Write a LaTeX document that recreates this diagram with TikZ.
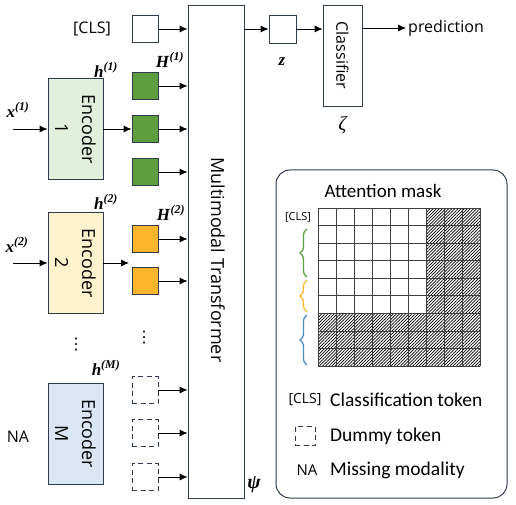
\documentclass[tikz,border=0pt]{standalone}
\usepackage{fontspec}
\setmainfont{Liberation Serif}
\setsansfont{Open Sans}
\newfontfamily\legendfont{Carlito}
\newfontfamily\dotsfont{DejaVu Sans}
\usetikzlibrary{arrows.meta,patterns.meta,decorations.pathreplacing}

\definecolor{edge}{HTML}{2E3B4E}
\definecolor{tokgreen}{HTML}{5E9E3E}
\definecolor{tokorange}{HTML}{F9B62C}
\definecolor{encgreen}{HTML}{E2EFDA}
\definecolor{encorange}{HTML}{FFF2CC}
\definecolor{encblue}{HTML}{DAE6F4}
\definecolor{brblue}{HTML}{4A8BCB}

\newcommand{\vsym}[2]{\textbf{\textit{#1}}\textsuperscript{\textbf{\textit{(#2)}}}}

\tikzset{
  every node/.style={font=\sffamily\fontsize{16}{18}\selectfont},
  box/.style={draw=edge,line width=0.8pt,inner sep=0pt},
  tok/.style={box,minimum width=26pt,minimum height=27pt},
  clstok/.style={tok,fill=white},
  modA/.style={tok,fill=tokgreen},
  modB/.style={tok,fill=tokorange},
  dummy/.style={tok,dash pattern=on 5pt off 3.5pt},
  enc/.style={box,rotate=-90,minimum width=101pt,minimum height=55pt,align=center,
    text depth=-4pt,font=\sffamily\fontsize{18}{27}\selectfont},
  sym/.style={font=\rmfamily\fontsize{17}{19}\selectfont},
  vdot/.style={font=\dotsfont\fontsize{16}{18}\selectfont},
  arr/.style={-{Latex[length=8pt,width=7pt]},line width=0.8pt},
  hatch/.style={pattern={Lines[angle=45,distance=2.2pt,line width=0.7pt]}},
  gridline/.style={draw=black!75,line width=0.6pt},
  brc/.style={decorate,decoration={brace,amplitude=7pt},line width=1.3pt},
  legendtext/.style={font=\legendfont\fontsize{19.5}{21}\selectfont,anchor=west,inner sep=0pt}
}

\begin{document}
\begin{tikzpicture}[x=1pt,y=-1pt]
  \useasboundingbox (0,0) rectangle (516,505);

  % tokens
  \node [clstok] (cls) at (145,29) {};
  \node (clsname) at (92,29) {[CLS]};
  \node [modA] (g1) at (145,86) {};
  \node [modA] (g2) at (145,129) {};
  \node [modA] (g3) at (145,172) {};
  \node [modB] (o1) at (145,239) {};
  \node [modB] (o2) at (145,281) {};
  \node [dummy] (d1) at (145,390) {};
  \node [dummy] (d2) at (145,433) {};
  \node [dummy] (d3) at (145,477) {};

  % encoders
  \node [enc,fill=encgreen] (enc1) at (75.5,129) {Encoder\\1};
  \node [enc,fill=encorange] (enc2) at (75.5,263) {Encoder\\2};
  \node [enc,fill=encblue] (encM) at (75.5,433.5) {Encoder\\M};
  \coordinate (in1) at (13,129);
  \coordinate (in2) at (13,263);
  \coordinate (out2) at (129,263);
  \node [sym] (x1) at (18,110) {\vsym{x}{1}};
  \node [sym] (x2) at (17,245) {\vsym{x}{2}};
  \node [sym] (h1) at (106,70) {\vsym{h}{1}};
  \node [sym] (h2) at (106,202) {\vsym{h}{2}};
  \node [sym] (hM) at (106,368) {\vsym{h}{M}};
  \node [sym] (H1) at (170,60) {\vsym{H}{1}};
  \node [sym] (H2) at (171,213) {\vsym{H}{2}};
  \node (NA) at (18,437) {NA};
  \node [vdot] (dotsA) at (76,345) {⋮};
  \node [vdot] (dotsB) at (144,338) {⋮};

  % transformer and classifier
  \node [box,minimum width=56pt,minimum height=493pt] (mt) at (216,251.5) {};
  \node [rotate=-90,font=\sffamily\fontsize{18}{20}\selectfont] (mtname) at (218,260) {Multimodal Transformer};
  \node [sym,font=\rmfamily\fontsize{20}{22}\selectfont] (psi) at (254,485) {\textbf{\textit{ψ}}};
  \node [box,minimum width=27pt,minimum height=28pt] (z) at (282.5,29) {};
  \node [sym] (zname) at (282,62) {\textbf{\textit{z}}};
  \node [box,rotate=-90,minimum width=101pt,minimum height=39pt] (clf) at (342.5,55.5) {Classifier};
  \node [sym,font=\rmfamily\fontsize{20}{22}\selectfont] (zeta) at (343,125) {\textit{ζ}};
  \node [anchor=west,inner sep=2pt] (pred) at (406,28) {prediction};

  \foreach \from/\to in {in1/enc1,in2/enc2,enc1/g2}
    \draw [arr] (\from) -- (\to);
  \draw [arr] (enc2) -- (out2);
  \foreach \tok in {cls,g1,g2,g3,o1,o2,d1,d2,d3}
    \draw [arr] (\tok) -- (\tok -| mt.west);
  \draw [arr] (mt.east |- z) -- (z);
  \draw [arr] (z) -- (z -| clf.south);
  \draw [arr] (clf.north |- pred) -- (pred);

  % legend
  \node [draw=edge,line width=1pt,rounded corners=14pt,minimum width=231pt,minimum height=328pt] (legend) at (391.5,334) {};
  \node [font=\legendfont\fontsize{19}{21}\selectfont] (masktitle) at (383,191) {Attention mask};
  \fill [hatch] (426,208) rectangle (480,366);
  \fill [hatch] (318,313.3) rectangle (426,366);
  \foreach \i in {0,...,9} {
    \draw [gridline] (318+\i*18,208) -- (318+\i*18,366);
    \draw [gridline] (318,208+\i*17.556) -- (480,208+\i*17.556);
  }
  \node [font=\sffamily\fontsize{11}{12}\selectfont] (maskcls) at (298,217) {[CLS]};
  \draw [brc,draw=tokgreen] (307,277) -- (307,229);
  \draw [brc,draw=tokorange] (307,312) -- (307,280);
  \draw [brc,draw=brblue] (307,365) -- (307,315);

  \node [font=\sffamily\fontsize{14}{16}\selectfont] (legcls) at (305,400) {[CLS]};
  \node [legendtext] (legclstext) at (330,400) {Classification token};
  \node [box,dash pattern=on 5pt off 3.5pt,minimum width=20pt,minimum height=19pt] (legdummy) at (305,436) {};
  \node [legendtext] (legdummytext) at (330,436) {Dummy token};
  \node [font=\sffamily\fontsize{15}{16}\selectfont] (legna) at (307,470) {NA};
  \node [legendtext] (legnatext) at (330,470) {Missing modality};
\end{tikzpicture}
\end{document}
